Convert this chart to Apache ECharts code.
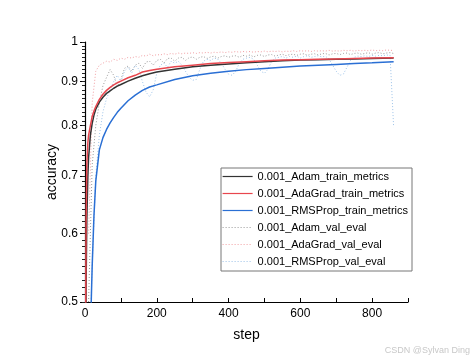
<!DOCTYPE html>
<html><head><meta charset="utf-8">
<script src="https://cdn.jsdelivr.net/npm/echarts@6/dist/echarts.min.js"></script>
<style>html,body{margin:0;padding:0;background:#fff}#c{width:474px;height:362px}</style>
</head><body><div id="c"></div>
<script>
// ---- data ----
const trainSteps = [1,3,5,8,10,15,20,25,30,40,50,60,70,80,90,100,120,140,160,180,200,250,300,350,400,450,500,550,600,650,700,750,800,860];
const adamTrain    = [0.35,0.52,0.62,0.70,0.735,0.78,0.805,0.823,0.836,0.852,0.863,0.872,0.878,0.884,0.889,0.893,0.901,0.908,0.914,0.919,0.923,0.930,0.936,0.940,0.943,0.946,0.949,0.951,0.953,0.954,0.955,0.956,0.957,0.958];
const adagradTrain = [0.40,0.62,0.72,0.765,0.78,0.80,0.82,0.832,0.842,0.858,0.870,0.879,0.886,0.892,0.897,0.901,0.909,0.915,0.923,0.927,0.930,0.936,0.940,0.944,0.947,0.949,0.951,0.953,0.954,0.955,0.956,0.957,0.958,0.959];
const rmspropTrain = [0.30,0.32,0.34,0.37,0.40,0.46,0.55,0.63,0.69,0.75,0.775,0.792,0.806,0.818,0.829,0.838,0.855,0.868,0.879,0.887,0.892,0.905,0.914,0.920,0.925,0.929,0.932,0.935,0.938,0.940,0.942,0.944,0.946,0.949];

const valSteps = [10,20,30,40,50,60,70,80,90,100,110,120,130,140,150,160,170,180,190,200,210,220,230,240,250,260,270,280,290,300,310,320,330,340,350,360,370,380,390,400,410,420,430,440,450,460,470,480,490,500,510,520,530,540,550,560,570,580,590,600,610,620,630,640,650,660,670,680,690,700,710,720,730,740,750,760,770,780,790,800,810,820,830,840,850,860];
const adamVal = [0.50,0.72,0.80,0.85,0.89,0.91,0.929,0.915,0.888,0.905,0.932,0.938,0.925,0.940,0.945,0.932,0.948,0.950,0.940,0.952,0.955,0.945,0.957,0.958,0.950,0.958,0.960,0.952,0.959,0.961,0.955,0.960,0.962,0.957,0.961,0.963,0.958,0.962,0.964,0.960,0.963,0.964,0.960,0.965,0.963,0.966,0.961,0.965,0.966,0.962,0.966,0.967,0.963,0.966,0.968,0.964,0.967,0.968,0.965,0.968,0.969,0.965,0.968,0.969,0.966,0.969,0.970,0.966,0.969,0.970,0.967,0.970,0.971,0.967,0.970,0.971,0.968,0.970,0.972,0.968,0.971,0.972,0.969,0.971,0.972,0.970];
const adagradVal = [0.60,0.85,0.925,0.940,0.945,0.950,0.948,0.955,0.952,0.958,0.955,0.960,0.958,0.962,0.960,0.965,0.963,0.968,0.964,0.967,0.966,0.969,0.967,0.970,0.968,0.971,0.969,0.971,0.970,0.972,0.970,0.972,0.971,0.973,0.971,0.973,0.972,0.974,0.972,0.974,0.973,0.975,0.973,0.975,0.974,0.975,0.973,0.975,0.974,0.976,0.974,0.976,0.975,0.976,0.974,0.976,0.975,0.977,0.975,0.977,0.976,0.977,0.975,0.977,0.976,0.977,0.976,0.978,0.976,0.977,0.976,0.978,0.977,0.978,0.976,0.978,0.977,0.978,0.977,0.979,0.977,0.978,0.977,0.979,0.978,0.978];
const rmspropVal = [0.40,0.55,0.70,0.78,0.83,0.86,0.88,0.90,0.915,0.90,0.925,0.935,0.92,0.94,0.93,0.90,0.875,0.864,0.88,0.92,0.94,0.945,0.935,0.95,0.945,0.95,0.94,0.925,0.91,0.903,0.905,0.93,0.95,0.955,0.952,0.958,0.955,0.945,0.93,0.918,0.915,0.925,0.945,0.955,0.958,0.96,0.955,0.94,0.925,0.92,0.93,0.95,0.958,0.96,0.962,0.958,0.962,0.96,0.963,0.958,0.962,0.964,0.96,0.962,0.964,0.961,0.963,0.955,0.94,0.925,0.915,0.918,0.935,0.952,0.96,0.963,0.962,0.964,0.962,0.965,0.963,0.965,0.964,0.966,0.965,0.797];

const seriesNames = ['0.001_Adam_train_metrics','0.001_AdaGrad_train_metrics','0.001_RMSProp_train_metrics','0.001_Adam_val_eval','0.001_AdaGrad_val_eval','0.001_RMSProp_val_eval'];
const xLabelValues = [0,200,400,600,800];
const yTickLabels = [0.5,0.6,0.7,0.8,0.9,1];
const yMinorTicks = [];
for (let i = 50; i <= 100; i++) yMinorTicks.push(i / 100);

const pair = (xs, ys) => xs.map((x, i) => [x, ys[i]]);
const FONT = 'Liberation Sans, Arial, sans-serif';

const chart = echarts.init(document.getElementById('c'));
const lineS = (name, xs, ys, color, width, type) => ({
  name, type: 'line', data: pair(xs, ys), yAxisIndex: 0,
  symbol: 'none', smooth: false, animation: false,
  lineStyle: { color, width, type }, itemStyle: { color },
  emphasis: { disabled: true }
});
chart.setOption({
  animation: false,
  backgroundColor: '#fff',
  grid: { left: 85, right: 66, top: 42, bottom: 60 },
  legend: {
    data: seriesNames,
    orient: 'vertical', left: 221, top: 168,
    padding: [3, 4, 4, 1],
    itemGap: 6, itemWidth: 30, itemHeight: 11,
    itemStyle: { color: 'transparent', borderWidth: 0, opacity: 0 },
    lineStyle: { width: 1.2 },
    borderColor: '#777', borderWidth: 1, backgroundColor: '#fff',
    textStyle: { fontFamily: FONT, fontSize: 11, color: '#000' },
    selectedMode: false
  },
  xAxis: {
    type: 'value', min: 0, max: 900, interval: 100,
    name: 'step', nameLocation: 'middle', nameGap: 26, nameMoveOverlap: false,
    nameTextStyle: { fontFamily: FONT, fontSize: 14, color: '#000' },
    axisLine: { lineStyle: { color: '#000', width: 1.2 } },
    axisTick: { inside: true, length: 4, lineStyle: { color: '#000' } },
    axisLabel: { fontFamily: FONT, fontSize: 12, color: '#000', margin: 6,
      customValues: xLabelValues },
    splitLine: { show: false }
  },
  yAxis: [{
    type: 'log', min: 0.5, max: 1,
    name: 'accuracy', nameLocation: 'middle', nameGap: 26, nameMoveOverlap: false,
    nameTextStyle: { fontFamily: FONT, fontSize: 14, color: '#000' },
    axisLine: { show: true, lineStyle: { color: '#000', width: 1.2 } },
    axisTick: { show: true, inside: false, length: 5, customValues: yTickLabels, lineStyle: { color: '#000' } },
    axisLabel: { fontFamily: FONT, fontSize: 12, color: '#000', margin: 7, customValues: yTickLabels,
      formatter: v => (Math.round(v * 10) / 10).toString() },
    splitLine: { show: false }, minorTick: { show: false }
  }, {
    type: 'log', min: 0.5, max: 1, position: 'left', offset: 0,
    axisLine: { show: false },
    axisTick: { show: true, inside: false, length: 3, customValues: yMinorTicks, lineStyle: { color: '#222' } },
    axisLabel: { show: false },
    splitLine: { show: false }
  }],
  series: [
    lineS(seriesNames[3], valSteps, adamVal, '#9a9a9a', 1, [1, 2]),
    lineS(seriesNames[4], valSteps, adagradVal, '#f2a0a4', 1, [1, 2]),
    lineS(seriesNames[5], valSteps, rmspropVal, '#9cc2e8', 1, [1, 2]),
    lineS(seriesNames[0], trainSteps, adamTrain, '#333333', 1.5, 'solid'),
    lineS(seriesNames[1], trainSteps, adagradTrain, '#e8464e', 1.5, 'solid'),
    lineS(seriesNames[2], trainSteps, rmspropTrain, '#2a6fd4', 1.5, 'solid')
  ],
  graphic: [{
    type: 'text', right: 4, top: 346,
    style: { text: 'CSDN @Sylvan Ding', fontFamily: FONT, fontSize: 9, fill: '#c8c8c8' }
  }]
});
</script></body></html>
